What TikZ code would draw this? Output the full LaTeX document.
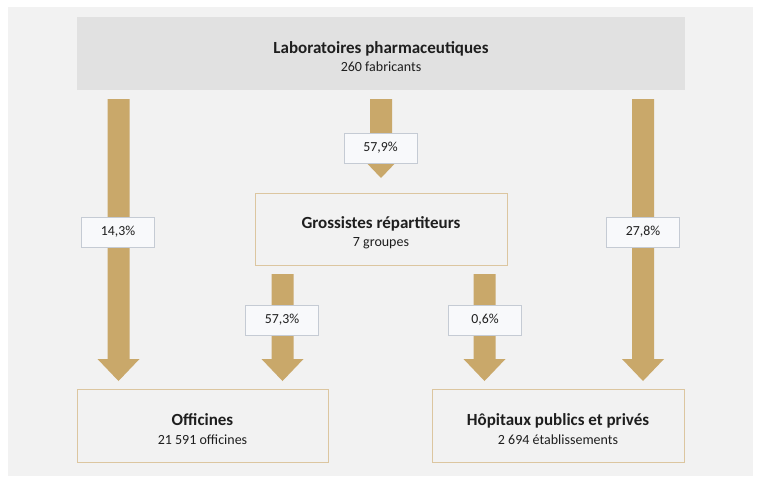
\documentclass[tikz,border=0pt]{standalone}
\usepackage{fontspec}
\setmainfont{Carlito}
\usetikzlibrary{calc}
\definecolor{bgc}{HTML}{F2F2F2}
\definecolor{topc}{HTML}{E1E1E1}
\definecolor{arrowc}{HTML}{C9A86A}
\definecolor{boxline}{HTML}{DCC6A0}
\definecolor{labfill}{HTML}{F8F9FB}
\definecolor{labline}{HTML}{C5CBD4}
\definecolor{txt}{HTML}{1E1E1E}
\tikzset{
  twoline/.style={align=center, text=txt, inner sep=0pt, font=\fontsize{14}{18.5}\selectfont},
  entity/.style={draw=boxline, line width=0.8pt, fill=bgc, inner sep=0pt},
  pct/.style={draw=labline, line width=0.7pt, fill=labfill, minimum width=73pt, minimum height=30pt, inner sep=0pt, text=txt, font=\fontsize{13.8}{16}\selectfont},
}
\newcommand\ttl[1]{{\fontsize{17}{19}\selectfont\bfseries #1}}
\newcommand\blockarrow[2]{%
  \fill[arrowc] let \p1=(#1), \p2=(#2) in
    (\x1-11pt,\y1) -- (\x1-11pt,\y2+22pt) -- (\x1-21pt,\y2+22pt) -- (\x2,\y2)
    -- (\x1+21pt,\y2+22pt) -- (\x1+11pt,\y2+22pt) -- (\x1+11pt,\y1) -- cycle;}
\begin{document}
\begin{tikzpicture}[x=1pt,y=-1pt]
\useasboundingbox (0,0) rectangle (762,485);
\fill[white] (0,0) rectangle (762,485);
\fill[bgc] (8,7) rectangle (753,476);
% boxes
\node[fill=topc, inner sep=0pt, minimum width=608pt, minimum height=73pt] (lab) at (381,53.5) {};
\node[twoline] (labt) at ($(lab.center)+(0,3)$) {\ttl{Laboratoires pharmaceutiques}\\260 fabricants};
\node[entity, minimum width=252pt, minimum height=72pt] (gro) at (381,229) {};
\node[twoline] (grot) at ($(gro.center)+(0,3.5)$) {\ttl{Grossistes répartiteurs}\\7 groupes};
\node[entity, minimum width=251pt, minimum height=73pt] (off) at (202.5,425.5) {};
\node[twoline] (offt) at ($(off.center)+(0,3.5)$) {\ttl{Officines}\\21 591 officines};
\node[entity, minimum width=252pt, minimum height=73pt] (hop) at (558,425.5) {};
\node[twoline] (hopt) at ($(hop.center)+(0,3.5)$) {\ttl{Hôpitaux publics et privés}\\2 694 établissements};
% arrow end points
\coordinate (a1s) at (118.5,99);  \coordinate (a1t) at (118.5,381);
\coordinate (a2s) at (381,99);    \coordinate (a2t) at (381,178);
\coordinate (a3s) at (282.5,274); \coordinate (a3t) at (282.5,381);
\coordinate (a4s) at (484.5,274); \coordinate (a4t) at (484.5,381);
\coordinate (a5s) at (643,99);    \coordinate (a5t) at (643,381);
\blockarrow{a1s}{a1t}
\blockarrow{a2s}{a2t}
\blockarrow{a3s}{a3t}
\blockarrow{a4s}{a4t}
\blockarrow{a5s}{a5t}
% percentage labels
\node[pct] (p1) at (118,232) {14,3\%};
\node[pct] (p2) at (380.5,148) {57,9\%};
\node[pct] (p3) at (282,320) {57,3\%};
\node[pct] (p4) at (485,320) {0,6\%};
\node[pct] (p5) at (643,232) {27,8\%};
\end{tikzpicture}
\end{document}
